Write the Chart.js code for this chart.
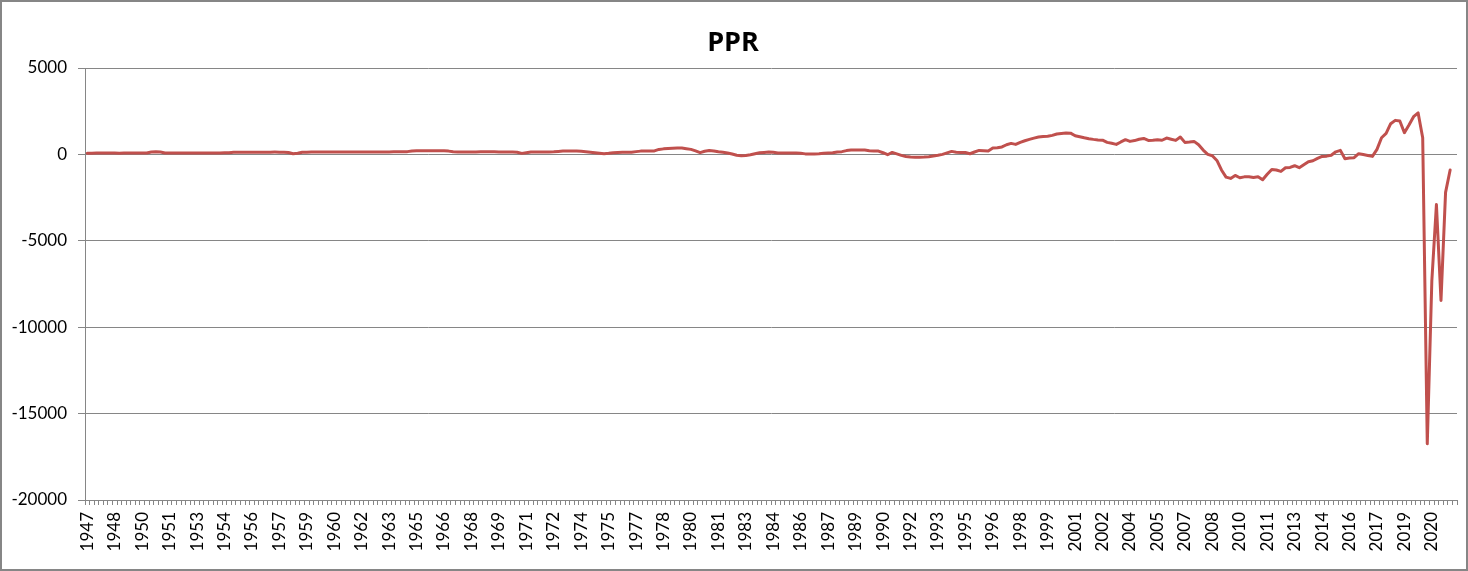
<!DOCTYPE html>
<html>
<head>
<meta charset="utf-8">
<script src="https://cdn.jsdelivr.net/npm/chart.js@4.4.0/dist/chart.umd.min.js"></script>
<style>
    html, body { margin: 0; padding: 0; background: #fff; }
</style>
</head>
<body>
<canvas id="myChart" width="1468" height="571"></canvas>
<script>
var chartTitle = 'PPR'

// one label per quarter, the year repeated 4 times
var years = [1947, 1948, 1949, 1950, 1951, 1952, 1953, 1954, 1955, 1956,
    1957, 1958, 1959, 1960, 1961, 1962, 1963, 1964, 1965, 1966,
    1967, 1968, 1969, 1970, 1971, 1972, 1973, 1974, 1975, 1976,
    1977, 1978, 1979, 1980, 1981, 1982, 1983, 1984, 1985, 1986,
    1987, 1988, 1989, 1990, 1991, 1992, 1993, 1994, 1995, 1996,
    1997, 1998, 1999, 2000, 2001, 2002, 2003, 2004, 2005, 2006,
    2007, 2008, 2009, 2010, 2011, 2012, 2013, 2014, 2015, 2016,
    2017, 2018, 2019, 2020, 2021]

var yTicks = [5000, 0, -5000, -10000, -15000, -20000]

// quarterly values
var ppr1947to1969 = [
    70, 72, 75, 74,
    76, 78, 75, 73,
    74, 76, 78, 80,
    82, 85, 140, 150,
    135, 85, 80, 78,
    80, 82, 80, 78,
    80, 82, 84, 85,
    86, 88, 90, 95,
    120, 125, 125, 128,
    130, 128, 126, 128,
    130, 132, 130, 128,
    110, 40, 70, 120,
    130, 135, 135, 138,
    140, 138, 136, 138,
    140, 140, 142, 140,
    138, 140, 142, 144,
    145, 146, 145, 148,
    150, 152, 160, 200,
    210, 215, 215, 212,
    210, 215, 210, 190,
    150, 145, 142, 140,
    142, 145, 148, 150,
    150, 148, 146, 145
]

var ppr1970to1989 = [
    140, 135, 120, 60,
    100, 140, 145, 140,
    138, 145, 150, 170,
    190, 195, 193, 190,
    185, 160, 130, 100,
    70, 40, 60, 90,
    115, 120, 118, 125,
    160, 190, 195, 193,
    200, 290, 320, 340,
    360, 370, 365, 330,
    290, 200, 100, 180,
    230, 200, 155, 120,
    80, 20, -50, -80,
    -60, -20, 40, 90,
    116, 140, 120, 80,
    77, 78, 80, 75,
    60, 30, 20, 25,
    40, 70, 80, 90,
    140, 160, 220, 250,
    255, 255, 250, 215
]

var ppr1990to2009 = [
    195, 190, 97, -20,
    116, 30, -58, -120,
    -155, -160, -160, -150,
    -130, -90, -50, 0,
    90, 174, 130, 116,
    110, 39, 140, 232,
    210, 193, 367, 380,
    430, 560, 637, 579,
    700, 790, 869, 940,
    1004, 1030, 1050, 1100,
    1180, 1210, 1235, 1230,
    1081, 1020, 960, 907,
    870, 840, 820, 695,
    640, 579, 720, 850,
    753, 800, 880, 926,
    811, 820, 850, 820,
    946, 880, 811, 1004,
    695, 720, 753, 560,
    250, 0, -77, -350,
    -900, -1312, -1390, -1216
]

var ppr2010to2021 = [
    -1351, -1300, -1290, -1332,
    -1293, -1467, -1150, -869,
    -900, -984, -772, -753,
    -656, -772, -600, -425,
    -367, -232, -116, -100,
    -50, 150, 232, -251,
    -212, -193, 39, -10,
    -60, -116, 290, 965,
    1216, 1776, 1969, 1930,
    1255, 1700, 2181, 2400,
    965, -16750, -7300, -2900,
    -8450, -2200, -900
]

var myChart

function Graphic() {
    var labels = []
    for (var i = 0; i < years.length; i++) {
        for (var q = 0; q < 4; q++) labels.push('' + years[i])
    }
    var values = ppr1947to1969.concat(ppr1970to1989, ppr1990to2009, ppr2010to2021)

    var framePlugin = {
        id: 'frame',
        beforeDraw: function (chart) {
            var c = chart.ctx
            c.save()
            c.fillStyle = '#FFFFFF'
            c.fillRect(0, 0, chart.width, chart.height)
            c.restore()
        },
        afterDraw: function (chart) {
            var c = chart.ctx
            c.save()
            c.strokeStyle = '#868686'
            c.lineWidth = 2
            c.strokeRect(1, 1, chart.width - 2, chart.height - 2)
            c.fillStyle = '#000000'
            c.font = 'bold 27px "Open Sans"'
            c.textAlign = 'center'
            c.textBaseline = 'alphabetic'
            c.fillText(chartTitle, 733, 51)
            c.restore()
        }
    }

    var ctx = document.getElementById('myChart')
    myChart = new Chart(ctx, {
        type: 'line',
        data: {
            labels: labels,
            datasets: [{
                label: chartTitle,
                data: values,
                borderColor: '#C0504D',
                backgroundColor: '#C0504D',
                borderWidth: 3,
                borderJoinStyle: 'round',
                borderCapStyle: 'round',
                pointRadius: 0,
                tension: 0,
                fill: false
            }]
        },
        options: {
            responsive: false,
            animation: false,
            events: [],
            layout: {
                padding: { top: 68, right: 11, bottom: 0, left: 0 }
            },
            plugins: {
                legend: { display: false },
                title: { display: false },
                tooltip: { enabled: false }
            },
            scales: {
                x: {
                    offset: true,
                    ticks: {
                        autoSkip: false,
                        maxRotation: 90,
                        minRotation: 90,
                        padding: 7,
                        color: '#000000',
                        font: { family: 'Lato', size: 17 },
                        callback: function (value, index) {
                            return index % 6 === 0 ? this.getLabelForValue(value) : ''
                        }
                    },
                    grid: {
                        offset: true,
                        drawOnChartArea: false,
                        drawTicks: true,
                        tickLength: 5,
                        color: '#868686'
                    },
                    border: { color: '#868686', width: 1 },
                    afterFit: function (scale) {
                        scale.height = 71
                        scale.paddingLeft = 0
                        scale.paddingRight = 0
                    }
                },
                y: {
                    min: yTicks[yTicks.length - 1],
                    max: yTicks[0],
                    afterBuildTicks: function (scale) {
                        scale.ticks = yTicks.map(function (v) { return { value: v } })
                    },
                    ticks: {
                        color: '#000000',
                        padding: 11,
                        font: { family: 'Lato', size: 17 },
                        callback: function (value) { return '' + value }
                    },
                    grid: {
                        color: '#868686',
                        lineWidth: 1,
                        tickLength: 7
                    },
                    border: { color: '#868686', width: 1 },
                    afterFit: function (scale) { scale.width = 85 }
                }
            }
        },
        plugins: [framePlugin]
    })
}

window.addEventListener('load', Graphic)
</script>
</body>
</html>
